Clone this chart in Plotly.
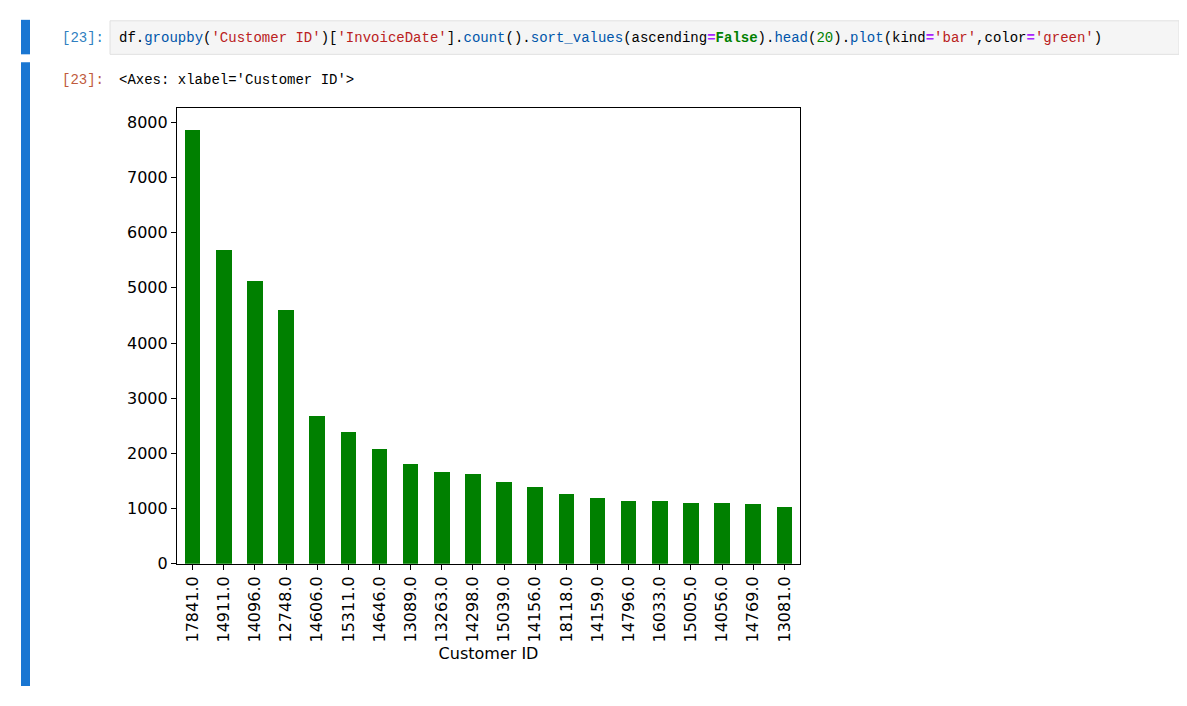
import plotly.graph_objects as go

customer_ids = ["17841.0","14911.0","14096.0","12748.0","14606.0","15311.0","14646.0","13089.0","13263.0","14298.0",
                "15039.0","14156.0","18118.0","14159.0","14796.0","16033.0","15005.0","14056.0","14769.0","13081.0"]
counts = [7870,5696,5125,4607,2696,2393,2084,1809,1679,1637,1500,1405,1280,1208,1143,1143,1119,1119,1101,1030]
y_ticks = [0,1000,2000,3000,4000,5000,6000,7000,8000]

OFF = 8  # page body margin
W, H = 1187 - 2 * OFF, 706 - 2 * OFF
fig = go.Figure(go.Bar(x=list(range(len(counts))), y=counts, marker_color="green",
                       marker_line_width=0, width=0.5))

def px(x): return (x - OFF) / W
def py(y): return 1 - (y - OFF) / H

shapes = [
    dict(type="rect", xref="paper", yref="paper", x0=px(21), x1=px(30), y0=py(55), y1=py(20), fillcolor="#1976d2", line_width=0),
    dict(type="rect", xref="paper", yref="paper", x0=px(21), x1=px(30), y0=py(696), y1=py(63), fillcolor="#1976d2", line_width=0),
    dict(type="rect", xref="paper", yref="paper", x0=px(110), x1=1, y0=py(55), y1=py(21), fillcolor="#f5f5f5", line=dict(color="#e0e0e0", width=1), layer="below"),
]

code = ("df.<span style='color:#0055aa'>groupby</span>(<span style='color:#ba2121'>'Customer ID'</span>)"
        "[<span style='color:#ba2121'>'InvoiceDate'</span>].<span style='color:#0055aa'>count</span>()."
        "<span style='color:#0055aa'>sort_values</span>(ascending<b><span style='color:#aa22ff'>=</span></b>"
        "<b><span style='color:#008000'>False</span></b>).<span style='color:#0055aa'>head</span>(<span style='color:#008000'>20</span>)."
        "<span style='color:#0055aa'>plot</span>(kind<b><span style='color:#aa22ff'>=</span></b><span style='color:#ba2121'>'bar'</span>,"
        "color<b><span style='color:#aa22ff'>=</span></b><span style='color:#ba2121'>'green'</span>)")
mono = "Liberation Mono"
annotations = [
    dict(text="[23]:", x=px(60), y=py(38), xref="paper", yref="paper", xanchor="left", yanchor="middle", showarrow=False, font=dict(family=mono, size=14, color="#307fc1")),
    dict(text=code, x=px(117), y=py(38), xref="paper", yref="paper", xanchor="left", yanchor="middle", showarrow=False, font=dict(family=mono, size=14, color="#000")),
    dict(text="[23]:", x=px(60), y=py(81), xref="paper", yref="paper", xanchor="left", yanchor="middle", showarrow=False, font=dict(family=mono, size=14, color="#bf5b3d")),
    dict(text="&lt;Axes: xlabel='Customer ID'&gt;", x=px(117), y=py(81), xref="paper", yref="paper", xanchor="left", yanchor="middle", showarrow=False, font=dict(family=mono, size=14, color="#000")),
]

fig.update_layout(
    width=W, height=H, margin=dict(l=0, r=0, t=0, b=0),
    paper_bgcolor="white", plot_bgcolor="white", showlegend=False,
    shapes=shapes, annotations=annotations, bargap=0,
    font=dict(family="DejaVu Sans", size=16, color="#000"),
    xaxis=dict(domain=[px(177), px(800)], range=[-0.5, len(counts) - 0.5],
               tickvals=list(range(len(counts))), ticktext=customer_ids, tickangle=-90,
               showline=True, linecolor="black", linewidth=1.2, mirror=True,
               ticks="outside", ticklen=5, tickcolor="black", showgrid=False, zeroline=False,
               title=dict(text="Customer ID", font=dict(size=16), standoff=6)),
    yaxis=dict(domain=[py(572), py(109)], range=[0, 8268], tickvals=y_ticks,
               showline=True, linecolor="black", linewidth=1.2, mirror=True,
               ticks="outside", ticklen=5, tickcolor="black", showgrid=False, zeroline=False),
)
fig.write_html("out.html")
